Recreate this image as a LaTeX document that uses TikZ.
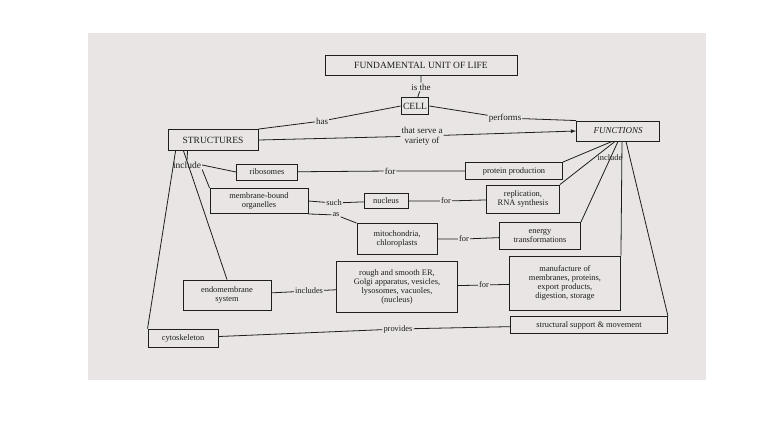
\documentclass[tikz,border=0pt]{standalone}
\usepackage{fontspec}
\setmainfont{Liberation Serif}
\begin{document}
\begin{tikzpicture}[x=1pt,y=-1pt,
  every node/.style={font=\fontsize{8.4}{8.8}\selectfont, text=ink},
  box/.style={draw=ink, line width=0.9pt, inner sep=2pt, align=center},
  lbl/.style={inner sep=1pt, align=center},
  ln/.style={draw=ink, line width=0.8pt}]
\definecolor{ink}{HTML}{1E1E1E}
\definecolor{page}{HTML}{E8E5E4}
\useasboundingbox (0,0) rectangle (768,432);
\fill[page] (88,33) rectangle (706,380);
% nodes
\node[box,font=\fontsize{9.5}{10}\selectfont,minimum width=192pt,minimum height=20pt] (fund) at (421,65) {FUNDAMENTAL UNIT OF LIFE};
\node[lbl,font=\fontsize{9}{10}\selectfont] (isthe) at (421,87) {is the};
\node[box,font=\fontsize{9.5}{10}\selectfont,minimum height=17pt] (cell) at (415,106) {CELL};
\node[box,font=\fontsize{9.5}{10}\selectfont,minimum width=90pt,minimum height=21pt] (str) at (213,140) {STRUCTURES};
\node[box,font=\fontsize{9}{10}\itshape,minimum width=83pt,minimum height=20pt] (fun) at (618,131) {FUNCTIONS};
\node[lbl,font=\fontsize{9}{10}\selectfont] (has) at (322,121) {has};
\node[lbl,font=\fontsize{9}{10}\selectfont] (perf) at (505,118) {performs};
\node[lbl,font=\fontsize{9}{10}\selectfont] (serve) at (422,136) {that serve a\\variety of};
\node[lbl,font=\fontsize{9.5}{10}\selectfont] (incl) at (187,165) {include};
\node[lbl] (incr) at (610,158) {include};
\node[box,minimum width=61pt,minimum height=16pt] (ribo) at (267,172) {ribosomes};
\node[lbl,font=\fontsize{9}{10}\selectfont] (for1) at (390,171) {for};
\node[box,minimum width=97pt,minimum height=17pt] (prot) at (514,171) {protein production};
\node[box,minimum width=98pt,minimum height=25pt] (memb) at (259,201) {membrane-bound\\organelles};
\node[lbl] (such) at (334,203) {such};
\node[lbl] (as) at (336,215) {as};
\node[box,minimum width=44pt,minimum height=15pt] (nuc) at (386,201) {nucleus};
\node[lbl] (for2) at (446,201) {for};
\node[box,minimum width=73pt,minimum height=28pt] (rep) at (523,199) {replication,\\RNA synthesis};
\node[box,minimum width=80pt,minimum height=31pt] (mito) at (397,239) {mitochondria,\\chloroplasts};
\node[lbl] (for3) at (464,239) {for};
\node[box,minimum width=81pt,minimum height=27pt] (ener) at (540,236) {energy\\transformations};
\node[box,minimum width=88pt,minimum height=30pt] (endo) at (227,295) {endomembrane\\system};
\node[lbl] (incs) at (309,291) {includes};
\node[box,minimum width=121pt,minimum height=51pt] (rough) at (397,287) {rough and smooth ER,\\Golgi apparatus, vesicles,\\lysosomes, vacuoles,\\(nucleus)};
\node[lbl] (for4) at (484,285) {for};
\node[box,minimum width=111pt,minimum height=54pt] (manu) at (565,283) {manufacture of\\membranes, proteins,\\export products,\\digestion, storage};
\node[box,minimum width=70pt,minimum height=18pt] (cyto) at (183,338) {cytoskeleton};
\node[lbl] (prov) at (398,329) {provides};
\node[box,minimum width=157pt,minimum height=17pt] (supp) at (589,325) {structural support \& movement};
% connectors
\draw[ln] (fund) -- (isthe) -- (cell);
\draw[ln] (cell.west) -- (has) -- (str.north east);
\draw[ln] (cell.east) -- (perf) -- (fun.north west);
\draw[ln] (str.east) -- (serve);
\draw[ln,-latex] (serve) -- (fun.west);
\draw[ln] (str.south west) ++(20,0) coordinate (s1) -- (incl.north);
\draw[ln] (incl.east) -- (ribo.west);
\draw[ln] (incl.south east) -- (memb.north west);
\draw[ln] (str.south west) ++(16,0) coordinate (s2) -- (endo.north);
\draw[ln] (str.south west) ++(8,0) coordinate (s3) -- (cyto.north west);
\draw[ln] (ribo) -- (for1) -- (prot);
\draw[ln] (memb.east) -- (such) -- (nuc);
\draw[ln] (memb.south east) -- (as) -- (mito.north west);
\draw[ln] (nuc) -- (for2) -- (rep);
\draw[ln] (mito) -- (for3) -- (ener);
\draw[ln] (endo) -- (incs) -- (rough);
\draw[ln] (rough) -- (for4) -- (manu);
\draw[ln] (cyto) -- (prov) -- (supp);
\draw[ln] (fun.south) ++(-6,0) coordinate (f0) -- (prot.north east);
\draw[ln] (fun.south) ++(-3,0) coordinate (f3) -- (rep.north east);
\draw[ln] (fun.south) -- (ener.north east);
\draw[ln] (fun.south) ++(4,0) coordinate (f1) -- (manu.north east);
\draw[ln] (fun.south) ++(8,0) coordinate (f2) -- (supp.north east);
\end{tikzpicture}
\end{document}
